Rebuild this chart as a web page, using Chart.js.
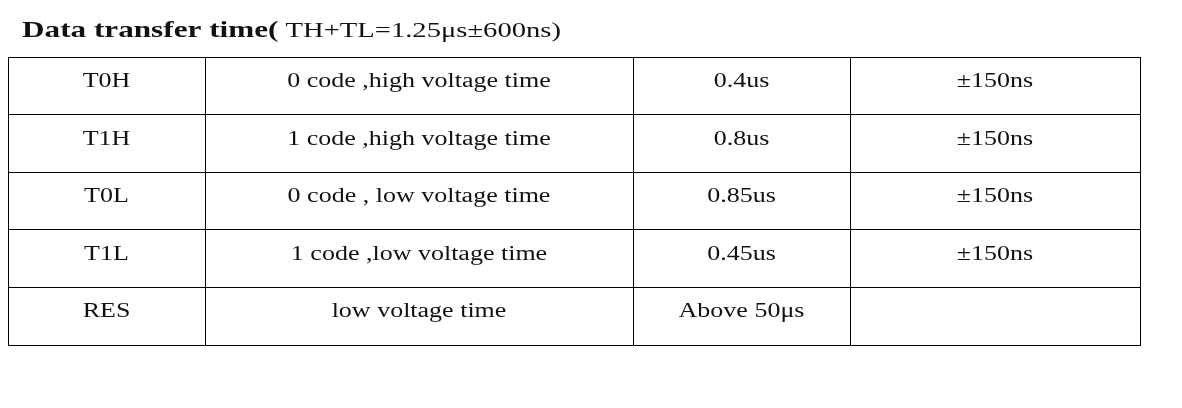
<!DOCTYPE html>
<html><head><meta charset="utf-8">
<script src="https://cdn.jsdelivr.net/npm/chart.js@4"></script>
<style>html,body{margin:0;padding:0;background:#fff}#w{width:1182px;height:408px}</style>
</head><body><div id="w"><canvas id="c"></canvas></div>
<script>
const titleBold = "Data transfer time(";
const titleNormal = " TH+TL=1.25\u03bcs\u00b1600ns)";
const colEdges = [0, 197, 625, 842, 1132];
const rowEdges = [0, 1, 2, 3, 4, 5];
const colSymbol = ["T0H", "T1H", "T0L", "T1L", "RES"];
const colDescription = ["0 code ,high voltage time", "1 code ,high voltage time", "0 code , low voltage time", "1 code ,low voltage time", "low voltage time"];
const colValue = ["0.4us", "0.8us", "0.85us", "0.45us", "Above 50\u03bcs"];
const colTolerance = ["\u00b1150ns", "\u00b1150ns", "\u00b1150ns", "\u00b1150ns", ""];
const columns = [colSymbol, colDescription, colValue, colTolerance];
const SX = 1.3;

function stretchText(ctx, t, x, y) {
  ctx.save();
  ctx.translate(x, y);
  ctx.scale(SX, 1);
  ctx.fillText(t, 0, 0);
  ctx.restore();
}

const tablePlugin = {
  id: 'table',
  afterDraw(chart) {
    const ctx = chart.ctx, xs = chart.scales.x, ys = chart.scales.y;
    ctx.save();
    ctx.fillStyle = '#111';
    ctx.textBaseline = 'middle';
    ctx.textAlign = 'center';
    ctx.font = '20px "Liberation Serif"';
    columns.forEach((col, ci) => {
      const cx = (xs.getPixelForValue(colEdges[ci]) + xs.getPixelForValue(colEdges[ci+1])) / 2;
      col.forEach((t, ri) => {
        const cy = (ys.getPixelForValue(rowEdges[ri]) + ys.getPixelForValue(rowEdges[ri+1])) / 2;
        stretchText(ctx, t, cx, cy - 4);
      });
    });
    ctx.strokeStyle = '#000'; ctx.lineWidth = 1;
    const a = chart.chartArea;
    ctx.strokeRect(Math.round(a.left)+0.5, Math.round(a.top)+0.5, Math.round(a.right-a.left), Math.round(a.bottom-a.top));
    ctx.textAlign = 'left';
    ctx.font = 'bold 24px "Liberation Serif"';
    stretchText(ctx, titleBold, 22, 31);
    const w = ctx.measureText(titleBold).width * SX;
    ctx.font = '22px "Liberation Serif"';
    stretchText(ctx, titleNormal, 22 + w, 31);
    ctx.restore();
  }
};

new Chart(document.getElementById('c'), {
  type: 'scatter',
  data: { datasets: [{ data: [] }] },
  options: {
    responsive: true, maintainAspectRatio: false, animation: false,
    layout: { padding: { left: 8, right: 42, top: 57, bottom: 63 } },
    plugins: { legend: { display: false }, tooltip: { enabled: false } },
    scales: {
      x: {
        type: 'linear', min: colEdges[0], max: colEdges[colEdges.length-1],
        afterBuildTicks: s => { s.ticks = colEdges.map(v => ({ value: v })); },
        ticks: { display: false },
        grid: { color: '#000', lineWidth: 1, drawTicks: false },
        border: { display: false }
      },
      y: {
        type: 'linear', reverse: true, min: rowEdges[0], max: rowEdges[rowEdges.length-1],
        afterBuildTicks: s => { s.ticks = rowEdges.map(v => ({ value: v })); },
        ticks: { display: false },
        grid: { color: '#000', lineWidth: 1, drawTicks: false },
        border: { display: false }
      }
    }
  },
  plugins: [tablePlugin]
});
</script></body></html>
